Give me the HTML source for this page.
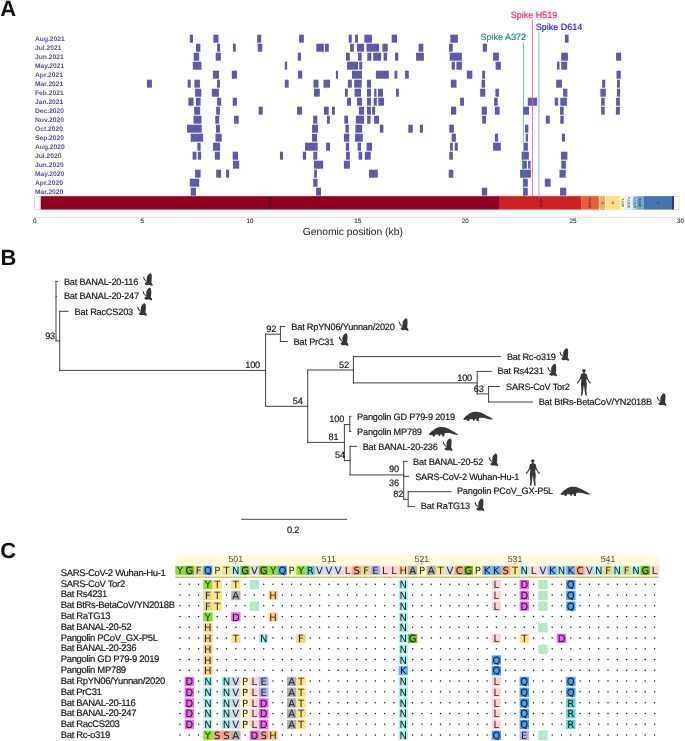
<!DOCTYPE html><html><head><meta charset="utf-8"><title>Figure</title><style>
html,body{margin:0;padding:0;background:#fff;}
body{width:685px;height:741px;overflow:hidden;}
svg{display:block;}
text{font-family:"Liberation Sans",Arial,sans-serif;text-rendering:geometricPrecision;}
.plab{font-weight:bold;font-size:22px;fill:#111;}
.mon{font-weight:bold;font-size:6.7px;fill:#534e9f;}
.gl{font-size:3.3px;fill:#1a1a1a;}
.tick{font-size:6.3px;fill:#333;stroke:#333;stroke-width:0.12px;}
.axt{font-size:10.3px;fill:#1a1a1a;}
.sp{font-size:9.0px;}
.tl{font-size:9.2px;letter-spacing:-0.2px;fill:#151515;stroke:#151515;stroke-width:0.18px;}
.nm{font-size:9.5px;letter-spacing:-0.33px;fill:#151515;stroke:#151515;stroke-width:0.18px;}
.ruler{font-size:8.8px;fill:#4a4a4a;}
.aa text{font-family:"DejaVu Sans",sans-serif;font-size:10px;fill:#000;fill-opacity:0.86;text-anchor:middle;}
.aa text.li{fill:#c2f5a8;fill-opacity:1;}
</style></head><body>
<svg width="685" height="741" viewBox="0 0 685 741">
<defs>
<g id="bat"><path d="M7 0 C7.8 0.3 8.4 0.8 8.5 1.5 L8.7 3.7 L8.5 7.2 L8.2 9.1 L9.1 10.4 L9.7 11.9 L8.9 12.7 L7.7 12 L6 11.8 L3.7 12 L2.1 11.3 L1.6 10.1 L2.8 9.3 L3.8 8.6 L3.6 6.1 L3.8 3.7 L4.6 2.1 L5.8 0.7 Z"/><path d="M0 3.8 L1 3.3 L1.6 5.6 L4.1 8.1 L3.7 8.9 L0.7 6.3 Z"/></g>
<g id="human"><circle cx="7.5" cy="1.9" r="1.75"/><path d="M6.6 3.6 L8.4 3.6 L8.5 4.6 L10.4 5.2 L11.2 9 L13 12.5 L14.6 13.8 L14 14.9 L12.6 13.8 L10.2 9.8 L10 12.5 L10.5 15.5 L10 22 L10.3 25.8 L10.9 26.6 L9 26.7 L8.3 22.2 L7.6 16.5 L7.4 16.5 L6.7 22.2 L6 26.7 L4.1 26.6 L4.7 25.8 L5 22 L4.5 15.5 L5 12.5 L4.8 9.8 L2.4 13.8 L1 14.9 L0.4 13.8 L2 12.5 L3.8 9 L4.6 5.2 L6.5 4.6 Z"/></g>
<g id="pango"><path d="M0 7.7 C1.5 5.8 3 4.6 4.5 3.5 C6.5 1.8 9 0.4 11.9 0.2 C14 0 16.5 0.4 18.9 1.4 C21 2.3 22 3.1 23.6 4 C25.5 5 27 5.8 28.2 6.6 C29 7.1 29.7 7.6 30 8.1 C28.5 8 27.2 7.9 25.9 7.7 C23.5 7.1 21.8 6.5 20.1 6.3 L16.2 6.2 L15.6 9.6 L13.7 9.6 L13.1 7.5 L11.9 7.7 L11.4 9.3 L10.1 9.3 L9.8 7.7 L6.7 7.7 L6.1 9.6 L4.4 9.6 L3.8 8.1 L2 8.4 Z"/></g>
</defs>
<rect width="685" height="741" fill="#fff"/>
<text x="0.3" y="16.0" class="plab">A</text>
<text x="35" y="41.1" class="mon">Aug.2021</text>
<text x="35" y="50.1" class="mon">Jul.2021</text>
<text x="35" y="59.1" class="mon">Jun.2021</text>
<text x="35" y="68.1" class="mon">May.2021</text>
<text x="35" y="77.1" class="mon">Apr.2021</text>
<text x="35" y="86.1" class="mon">Mar.2021</text>
<text x="35" y="95.1" class="mon">Feb.2021</text>
<text x="35" y="104.1" class="mon">Jan.2021</text>
<text x="35" y="113.1" class="mon">Dec.2020</text>
<text x="35" y="122.1" class="mon">Nov.2020</text>
<text x="35" y="131.1" class="mon">Oct.2020</text>
<text x="35" y="140.1" class="mon">Sep.2020</text>
<text x="35" y="149.1" class="mon">Aug.2020</text>
<text x="35" y="158.1" class="mon">Jul.2020</text>
<text x="35" y="167.1" class="mon">Jun.2020</text>
<text x="35" y="176.1" class="mon">May.2020</text>
<text x="35" y="185.1" class="mon">Apr.2020</text>
<text x="35" y="194.1" class="mon">Mar.2020</text>
<g fill="#5e59a8">
<rect x="189.8" y="34.7" width="3.2" height="8"/>
<rect x="213.4" y="34.7" width="5.1" height="8"/>
<rect x="257.1" y="34.7" width="4.1" height="8"/>
<rect x="299.1" y="34.7" width="4.7" height="8"/>
<rect x="348.7" y="34.7" width="3.1" height="8"/>
<rect x="355.1" y="34.7" width="2.9" height="8"/>
<rect x="364.3" y="34.7" width="7.6" height="8"/>
<rect x="391.7" y="34.7" width="5.3" height="8"/>
<rect x="450.3" y="34.7" width="7.6" height="8"/>
<rect x="564.9" y="34.7" width="3.7" height="8"/>
<rect x="196" y="43.7" width="4.4" height="8"/>
<rect x="217.1" y="43.7" width="3" height="8"/>
<rect x="233" y="43.7" width="2.7" height="8"/>
<rect x="257.7" y="43.7" width="4.6" height="8"/>
<rect x="316.3" y="43.7" width="7.6" height="8"/>
<rect x="325" y="43.7" width="3.8" height="8"/>
<rect x="350.1" y="43.7" width="3.8" height="8"/>
<rect x="357" y="43.7" width="7.1" height="8"/>
<rect x="366.5" y="43.7" width="12.5" height="8"/>
<rect x="382.4" y="43.7" width="5.3" height="8"/>
<rect x="418.6" y="43.7" width="4.7" height="8"/>
<rect x="449.1" y="43.7" width="3.6" height="8"/>
<rect x="482.8" y="43.7" width="4.1" height="8"/>
<rect x="193.7" y="52.7" width="5.5" height="8"/>
<rect x="215.7" y="52.7" width="5.1" height="8"/>
<rect x="297.8" y="52.7" width="3.1" height="8"/>
<rect x="346" y="52.7" width="3.8" height="8"/>
<rect x="358" y="52.7" width="3.7" height="8"/>
<rect x="367.3" y="52.7" width="4" height="8"/>
<rect x="373.2" y="52.7" width="7.9" height="8"/>
<rect x="383.6" y="52.7" width="3.5" height="8"/>
<rect x="395" y="52.7" width="3.3" height="8"/>
<rect x="416.1" y="52.7" width="7.8" height="8"/>
<rect x="449.7" y="52.7" width="12.2" height="8"/>
<rect x="493.1" y="52.7" width="5.8" height="8"/>
<rect x="561.2" y="52.7" width="6.7" height="8"/>
<rect x="616.1" y="52.7" width="5" height="8"/>
<rect x="192.8" y="61.7" width="8.7" height="8"/>
<rect x="284.8" y="61.7" width="2.3" height="8"/>
<rect x="347.1" y="61.7" width="10.9" height="8"/>
<rect x="359.2" y="61.7" width="3" height="8"/>
<rect x="451.6" y="61.7" width="3.3" height="8"/>
<rect x="456.4" y="61.7" width="5.5" height="8"/>
<rect x="495.6" y="61.7" width="5.2" height="8"/>
<rect x="557" y="61.7" width="2.5" height="8"/>
<rect x="561.2" y="61.7" width="6" height="8"/>
<rect x="213" y="70.7" width="6" height="8"/>
<rect x="231.8" y="70.7" width="5.1" height="8"/>
<rect x="298.1" y="70.7" width="4.1" height="8"/>
<rect x="335.9" y="70.7" width="2.1" height="8"/>
<rect x="352" y="70.7" width="10" height="8"/>
<rect x="375.9" y="70.7" width="12.9" height="8"/>
<rect x="394.5" y="70.7" width="2.8" height="8"/>
<rect x="405.1" y="70.7" width="3.7" height="8"/>
<rect x="466.8" y="70.7" width="5.5" height="8"/>
<rect x="482.2" y="70.7" width="2.9" height="8"/>
<rect x="616.5" y="70.7" width="4.3" height="8"/>
<rect x="146.9" y="79.7" width="5" height="8"/>
<rect x="187.7" y="79.7" width="3" height="8"/>
<rect x="194.4" y="79.7" width="5.5" height="8"/>
<rect x="217.1" y="79.7" width="2.8" height="8"/>
<rect x="284.8" y="79.7" width="3.9" height="8"/>
<rect x="313.5" y="79.7" width="5" height="8"/>
<rect x="323.5" y="79.7" width="6.5" height="8"/>
<rect x="347.9" y="79.7" width="3.9" height="8"/>
<rect x="354.2" y="79.7" width="7.5" height="8"/>
<rect x="367" y="79.7" width="4" height="8"/>
<rect x="450.8" y="79.7" width="5.7" height="8"/>
<rect x="481.6" y="79.7" width="3.5" height="8"/>
<rect x="556.2" y="79.7" width="5.7" height="8"/>
<rect x="602.1" y="79.7" width="3.2" height="8"/>
<rect x="617" y="79.7" width="2.9" height="8"/>
<rect x="195.1" y="88.7" width="6.2" height="8"/>
<rect x="211.8" y="88.7" width="7.2" height="8"/>
<rect x="314" y="88.7" width="5.8" height="8"/>
<rect x="345" y="88.7" width="2.8" height="8"/>
<rect x="354.6" y="88.7" width="6.4" height="8"/>
<rect x="367" y="88.7" width="4" height="8"/>
<rect x="374.1" y="88.7" width="2.4" height="8"/>
<rect x="378" y="88.7" width="5" height="8"/>
<rect x="396" y="88.7" width="2.8" height="8"/>
<rect x="480.2" y="88.7" width="5.1" height="8"/>
<rect x="495.4" y="88.7" width="3.6" height="8"/>
<rect x="563.1" y="88.7" width="4.3" height="8"/>
<rect x="600.4" y="88.7" width="5.4" height="8"/>
<rect x="617" y="88.7" width="3.1" height="8"/>
<rect x="188.4" y="97.7" width="5.1" height="8"/>
<rect x="196" y="97.7" width="4.6" height="8"/>
<rect x="217.1" y="97.7" width="4.1" height="8"/>
<rect x="232.7" y="97.7" width="4.2" height="8"/>
<rect x="347.1" y="97.7" width="3.9" height="8"/>
<rect x="357" y="97.7" width="5" height="8"/>
<rect x="367" y="97.7" width="3.9" height="8"/>
<rect x="373.7" y="97.7" width="3.1" height="8"/>
<rect x="378.3" y="97.7" width="5.7" height="8"/>
<rect x="460.1" y="97.7" width="3.9" height="8"/>
<rect x="494.1" y="97.7" width="3.6" height="8"/>
<rect x="527.8" y="97.7" width="9.3" height="8"/>
<rect x="554.7" y="97.7" width="3.4" height="8"/>
<rect x="560.3" y="97.7" width="6.6" height="8"/>
<rect x="601.2" y="97.7" width="3.5" height="8"/>
<rect x="616.1" y="97.7" width="3.8" height="8"/>
<rect x="194.2" y="106.7" width="5.9" height="8"/>
<rect x="216.2" y="106.7" width="3.7" height="8"/>
<rect x="258.7" y="106.7" width="4.1" height="8"/>
<rect x="297.1" y="106.7" width="4.9" height="8"/>
<rect x="324" y="106.7" width="4.7" height="8"/>
<rect x="332" y="106.7" width="2.9" height="8"/>
<rect x="358.9" y="106.7" width="5.2" height="8"/>
<rect x="367" y="106.7" width="3.9" height="8"/>
<rect x="372.1" y="106.7" width="3.1" height="8"/>
<rect x="451" y="106.7" width="5.2" height="8"/>
<rect x="481.7" y="106.7" width="5.2" height="8"/>
<rect x="494.9" y="106.7" width="4.7" height="8"/>
<rect x="523.1" y="106.7" width="5.9" height="8"/>
<rect x="560" y="106.7" width="3.7" height="8"/>
<rect x="601.2" y="106.7" width="3.5" height="8"/>
<rect x="615.9" y="106.7" width="4" height="8"/>
<rect x="193.5" y="115.7" width="8" height="8"/>
<rect x="215.3" y="115.7" width="3.9" height="8"/>
<rect x="234.1" y="115.7" width="4.6" height="8"/>
<rect x="313.2" y="115.7" width="4.1" height="8"/>
<rect x="326.9" y="115.7" width="2.9" height="8"/>
<rect x="344.3" y="115.7" width="3.8" height="8"/>
<rect x="355.8" y="115.7" width="8.3" height="8"/>
<rect x="367.1" y="115.7" width="3.5" height="8"/>
<rect x="374.1" y="115.7" width="4.9" height="8"/>
<rect x="482.2" y="115.7" width="3.8" height="8"/>
<rect x="545.8" y="115.7" width="4" height="8"/>
<rect x="560.3" y="115.7" width="3.4" height="8"/>
<rect x="187.1" y="124.7" width="14.6" height="8"/>
<rect x="216" y="124.7" width="3.9" height="8"/>
<rect x="312.1" y="124.7" width="5.9" height="8"/>
<rect x="345.5" y="124.7" width="3.3" height="8"/>
<rect x="355.4" y="124.7" width="6.8" height="8"/>
<rect x="379.9" y="124.7" width="3.5" height="8"/>
<rect x="408.3" y="124.7" width="4.5" height="8"/>
<rect x="419.8" y="124.7" width="3.2" height="8"/>
<rect x="449.3" y="124.7" width="4.6" height="8"/>
<rect x="525" y="124.7" width="3.4" height="8"/>
<rect x="190.7" y="133.7" width="12.4" height="8"/>
<rect x="215.5" y="133.7" width="6.2" height="8"/>
<rect x="312" y="133.7" width="5.1" height="8"/>
<rect x="343.9" y="133.7" width="5.4" height="8"/>
<rect x="355.1" y="133.7" width="7.7" height="8"/>
<rect x="451.6" y="133.7" width="4.3" height="8"/>
<rect x="494.9" y="133.7" width="3.2" height="8"/>
<rect x="525.7" y="133.7" width="2.3" height="8"/>
<rect x="561.9" y="133.7" width="3" height="8"/>
<rect x="197.4" y="142.7" width="3.2" height="8"/>
<rect x="213" y="142.7" width="7.1" height="8"/>
<rect x="305" y="142.7" width="12.7" height="8"/>
<rect x="326.1" y="142.7" width="3.9" height="8"/>
<rect x="345.8" y="142.7" width="3.3" height="8"/>
<rect x="357.6" y="142.7" width="3.4" height="8"/>
<rect x="366.6" y="142.7" width="5.4" height="8"/>
<rect x="450" y="142.7" width="2.8" height="8"/>
<rect x="454.7" y="142.7" width="3.1" height="8"/>
<rect x="493.1" y="142.7" width="7.7" height="8"/>
<rect x="524" y="142.7" width="3.9" height="8"/>
<rect x="192.6" y="151.7" width="3.9" height="8"/>
<rect x="197.8" y="151.7" width="3.3" height="8"/>
<rect x="214.8" y="151.7" width="5.1" height="8"/>
<rect x="232.7" y="151.7" width="5.3" height="8"/>
<rect x="280" y="151.7" width="3" height="8"/>
<rect x="302.8" y="151.7" width="3.3" height="8"/>
<rect x="313.3" y="151.7" width="4" height="8"/>
<rect x="346" y="151.7" width="3.9" height="8"/>
<rect x="358.6" y="151.7" width="3.6" height="8"/>
<rect x="364.8" y="151.7" width="5.9" height="8"/>
<rect x="449.3" y="151.7" width="3.5" height="8"/>
<rect x="521.6" y="151.7" width="7.3" height="8"/>
<rect x="561" y="151.7" width="6.4" height="8"/>
<rect x="233" y="160.7" width="6.2" height="8"/>
<rect x="313.9" y="160.7" width="9.2" height="8"/>
<rect x="343.9" y="160.7" width="6" height="8"/>
<rect x="522.2" y="160.7" width="4.6" height="8"/>
<rect x="528.1" y="160.7" width="2.4" height="8"/>
<rect x="561.3" y="160.7" width="4.6" height="8"/>
<rect x="195.1" y="169.7" width="5.5" height="8"/>
<rect x="216.2" y="169.7" width="4.8" height="8"/>
<rect x="226.1" y="169.7" width="3" height="8"/>
<rect x="314.2" y="169.7" width="2.7" height="8"/>
<rect x="369" y="169.7" width="8.8" height="8"/>
<rect x="448.7" y="169.7" width="4.6" height="8"/>
<rect x="520.1" y="169.7" width="10.8" height="8"/>
<rect x="559.5" y="169.7" width="6.2" height="8"/>
<rect x="189.8" y="178.7" width="9.4" height="8"/>
<rect x="313.2" y="178.7" width="4.3" height="8"/>
<rect x="522.9" y="178.7" width="4.9" height="8"/>
<rect x="544.8" y="178.7" width="5.8" height="8"/>
<rect x="190.7" y="187.7" width="5.3" height="8"/>
<rect x="316.1" y="187.7" width="4.9" height="8"/>
<rect x="481.9" y="187.7" width="5.3" height="8"/>
<rect x="523.1" y="187.7" width="4.7" height="8"/>
<rect x="560.1" y="187.7" width="6.1" height="8"/>
</g>
<rect x="34.3" y="196.2" width="644.7" height="13.3" fill="#fff" stroke="#cfcfcf" stroke-width="0.6"/>
<rect x="40.7" y="196.2" width="458.3" height="13.3" fill="#900020"/>
<rect x="499" y="196.2" width="82.2" height="13.3" fill="#cf2023"/>
<rect x="581.2" y="196.2" width="17.7" height="13.3" fill="#f25c35"/>
<rect x="600" y="196.2" width="5" height="13.3" fill="#fca55c"/>
<rect x="606" y="196.2" width="14" height="13.3" fill="#fedd8a"/>
<rect x="620" y="196.2" width="4.8" height="13.3" fill="#fcfcbd"/>
<rect x="625" y="196.2" width="7.6" height="13.3" fill="#dff1f6"/>
<rect x="632.6" y="196.2" width="3.7" height="13.3" fill="#aad6e8"/>
<rect x="636.3" y="196.2" width="7.3" height="13.3" fill="#71a9cf"/>
<rect x="643.6" y="196.2" width="27.7" height="13.3" fill="#4373b3"/>
<rect x="671.3" y="196.2" width="2.7" height="13.3" fill="#2f3490"/>
<rect x="598.9" y="196.2" width="1.1" height="13.3" fill="#fbd3c0"/>
<text class="gl" transform="translate(271,202.85) rotate(-90)" text-anchor="middle">ORF1ab</text>
<text class="gl" transform="translate(541.8,202.85) rotate(-90)" text-anchor="middle">Spike</text>
<text class="gl" transform="translate(591.4,202.85) rotate(-90)" text-anchor="middle">ORF3a</text>
<text class="gl" transform="translate(604,202.85) rotate(-90)" text-anchor="middle">E</text>
<text class="gl" transform="translate(614.2,202.85) rotate(-90)" text-anchor="middle">M</text>
<text class="gl" transform="translate(623.6,202.85) rotate(-90)" text-anchor="middle">ORF6</text>
<text class="gl" transform="translate(630,202.85) rotate(-90)" text-anchor="middle">ORF7a</text>
<text class="gl" transform="translate(635.7,202.85) rotate(-90)" text-anchor="middle">ORF7b</text>
<text class="gl" transform="translate(641.2,202.85) rotate(-90)" text-anchor="middle">ORF8</text>
<text class="gl" transform="translate(658.7,202.85) rotate(-90)" text-anchor="middle">N</text>
<line x1="34.7" y1="217.4" x2="680" y2="217.4" stroke="#dcdcdc" stroke-width="0.9"/>
<text x="34.7" y="222.7" class="tick" text-anchor="middle">0</text>
<text x="142.35" y="222.7" class="tick" text-anchor="middle">5</text>
<text x="250" y="222.7" class="tick" text-anchor="middle">10</text>
<text x="357.65" y="222.7" class="tick" text-anchor="middle">15</text>
<text x="465.3" y="222.7" class="tick" text-anchor="middle">20</text>
<text x="572.95" y="222.7" class="tick" text-anchor="middle">25</text>
<text x="680.6" y="222.7" class="tick" text-anchor="middle">30</text>
<text x="302.7" y="234.9" class="axt">Genomic position (kb)</text>
<line x1="523.4" y1="42.5" x2="523.4" y2="196.2" stroke="#2a9a8c" stroke-opacity="0.7" stroke-width="0.9"/>
<line x1="532.4" y1="20" x2="532.4" y2="196.2" stroke="#ff5aa5" stroke-width="0.9"/>
<line x1="538.9" y1="32.6" x2="538.9" y2="196.2" stroke="#b2b6ff" stroke-width="1.3"/>
<text x="480.4" y="39.6" class="sp" fill="#1d8a80" stroke="#1d8a80" stroke-width="0.2">Spike A372</text>
<text x="510.8" y="17.5" class="sp" fill="#f01e78" stroke="#f01e78" stroke-width="0.2">Spike H519</text>
<text x="535.8" y="30.4" class="sp" fill="#1c1cf2" stroke="#1c1cf2" stroke-width="0.2">Spike D614</text>
<text x="0.4" y="265.1" class="plab">B</text>
<g stroke="#404040" stroke-width="1" fill="none" stroke-linecap="square">
<line x1="59.7" y1="311.3" x2="59.7" y2="370.4"/>
<line x1="59.7" y1="311.3" x2="68" y2="311.3"/>
<line x1="56" y1="281.4" x2="56" y2="340.9"/>
<line x1="56" y1="340.9" x2="59.7" y2="340.9"/>
<line x1="56" y1="281.4" x2="57.4" y2="281.4"/>
<line x1="56" y1="296.3" x2="56.6" y2="296.3"/>
<line x1="59.7" y1="370.4" x2="265.6" y2="370.4"/>
<line x1="265.6" y1="334.2" x2="265.6" y2="406.3"/>
<line x1="265.6" y1="334.2" x2="280.4" y2="334.2"/>
<line x1="280.4" y1="326.4" x2="280.4" y2="341.5"/>
<line x1="280.4" y1="326.4" x2="284.9" y2="326.4"/>
<line x1="280.4" y1="341.5" x2="287.2" y2="341.5"/>
<line x1="265.6" y1="406.3" x2="307.7" y2="406.3"/>
<line x1="307.7" y1="370" x2="307.7" y2="442.4"/>
<line x1="307.7" y1="370" x2="353.4" y2="370"/>
<line x1="353.4" y1="356.6" x2="353.4" y2="382.9"/>
<line x1="353.4" y1="356.6" x2="500.4" y2="356.6"/>
<line x1="353.4" y1="382.9" x2="477.2" y2="382.9"/>
<line x1="477.2" y1="371.4" x2="477.2" y2="393.9"/>
<line x1="477.2" y1="371.4" x2="491.4" y2="371.4"/>
<line x1="477.2" y1="393.9" x2="488.6" y2="393.9"/>
<line x1="488.6" y1="386.5" x2="488.6" y2="402"/>
<line x1="488.6" y1="386.5" x2="499.5" y2="386.5"/>
<line x1="488.6" y1="402" x2="532.4" y2="402"/>
<line x1="307.7" y1="442.4" x2="344.4" y2="442.4"/>
<line x1="344.4" y1="424.6" x2="344.4" y2="460.6"/>
<line x1="344.4" y1="424.6" x2="349.8" y2="424.6"/>
<line x1="349.8" y1="416.4" x2="349.8" y2="431.5"/>
<line x1="349.8" y1="416.4" x2="350.8" y2="416.4"/>
<line x1="349.8" y1="431.5" x2="350.8" y2="431.5"/>
<line x1="344.4" y1="460.6" x2="350.1" y2="460.6"/>
<line x1="350.1" y1="446.3" x2="350.1" y2="474.9"/>
<line x1="350.1" y1="446.3" x2="356.4" y2="446.3"/>
<line x1="350.1" y1="474.9" x2="403.7" y2="474.9"/>
<line x1="403.7" y1="461.4" x2="403.7" y2="499.3"/>
<line x1="403.7" y1="461.4" x2="406.8" y2="461.4"/>
<line x1="403.7" y1="476.3" x2="408.8" y2="476.3"/>
<line x1="403.7" y1="499.3" x2="408.2" y2="499.3"/>
<line x1="408.2" y1="491.7" x2="408.2" y2="506.6"/>
<line x1="408.2" y1="491.7" x2="451.1" y2="491.7"/>
<line x1="408.2" y1="506.6" x2="414.6" y2="506.6"/>
</g>
<line x1="241.3" y1="519.3" x2="347" y2="519.3" stroke="#444" stroke-width="1"/>
<text x="293" y="533" class="tl" text-anchor="middle">0.2</text>
<text x="63.9" y="284.9" class="tl">Bat BANAL-20-116</text>
<text x="63.9" y="299.4" class="tl">Bat BANAL-20-247</text>
<text x="74.6" y="314.6" class="tl">Bat RacCS203</text>
<text x="291.3" y="329.9" class="tl">Bat RpYN06/Yunnan/2020</text>
<text x="293.6" y="344.5" class="tl">Bat PrC31</text>
<text x="506.9" y="359.5" class="tl">Bat Rc-o319</text>
<text x="497.6" y="374.3" class="tl">Bat Rs4231</text>
<text x="506.1" y="389.8" class="tl">SARS-CoV Tor2</text>
<text x="538.7" y="405" class="tl">Bat BtRs-BetaCoV/YN2018B</text>
<text x="357.1" y="419.5" class="tl">Pangolin GD P79-9 2019</text>
<text x="357.1" y="434.9" class="tl">Pangolin MP789</text>
<text x="362.7" y="450.2" class="tl">Bat BANAL-20-236</text>
<text x="413.1" y="464.5" class="tl">Bat BANAL-20-52</text>
<text x="415.2" y="479.6" class="tl">SARS-CoV-2 Wuhan-Hu-1</text>
<text x="456.9" y="494.2" class="tl">Pangolin PCoV_GX-P5L</text>
<text x="420.8" y="509.3" class="tl">Bat RaTG13</text>
<text x="55" y="339" class="tl" text-anchor="end">93</text>
<text x="276.1" y="331.9" class="tl" text-anchor="end">92</text>
<text x="260" y="367.5" class="tl" text-anchor="end">100</text>
<text x="348.8" y="367.5" class="tl" text-anchor="end">52</text>
<text x="302.6" y="403.8" class="tl" text-anchor="end">54</text>
<text x="472" y="380.6" class="tl" text-anchor="end">100</text>
<text x="483.6" y="392.4" class="tl" text-anchor="end">63</text>
<text x="344.1" y="421.8" class="tl" text-anchor="end">100</text>
<text x="338.4" y="440" class="tl" text-anchor="end">81</text>
<text x="344.8" y="458.4" class="tl" text-anchor="end">54</text>
<text x="398.9" y="472.4" class="tl" text-anchor="end">90</text>
<text x="398.9" y="485.8" class="tl" text-anchor="end">36</text>
<text x="403.2" y="496.5" class="tl" text-anchor="end">82</text>
<g fill="#363636">
<use href="#bat" transform="translate(143.1,273.3) scale(1)"/>
<use href="#bat" transform="translate(142.6,287.8) scale(1)"/>
<use href="#bat" transform="translate(137.2,303.2) scale(1)"/>
<use href="#bat" transform="translate(398.9,318.3) scale(1)"/>
<use href="#bat" transform="translate(338.8,333.2) scale(1)"/>
<use href="#bat" transform="translate(559.5,348.3) scale(1)"/>
<use href="#bat" transform="translate(547.5,363.8) scale(1)"/>
<use href="#bat" transform="translate(656.8,393.3) scale(1)"/>
<use href="#bat" transform="translate(442.9,438.4) scale(1)"/>
<use href="#bat" transform="translate(488.6,453.6) scale(1)"/>
<use href="#bat" transform="translate(474.7,498.6) scale(1)"/>
<use href="#human" transform="translate(576.4,368.8)"/>
<use href="#human" transform="translate(525.3,459)"/>
<use href="#pango" transform="translate(463,411.5)"/>
<use href="#pango" transform="translate(428.6,426.8)"/>
<use href="#pango" transform="translate(560.3,486.5)"/>
</g>
<text x="0.2" y="557.5" class="plab">C</text>
<rect x="175.3" y="555.0" width="483.91" height="21.6" fill="#fefbdc"/>
<text x="235.79" y="561.9" class="ruler" text-anchor="middle">501</text>
<rect x="235.39" y="562.5" width="0.8" height="1.7" fill="#555"/>
<text x="328.85" y="561.9" class="ruler" text-anchor="middle">511</text>
<rect x="328.45" y="562.5" width="0.8" height="1.7" fill="#555"/>
<text x="421.91" y="561.9" class="ruler" text-anchor="middle">521</text>
<rect x="421.51" y="562.5" width="0.8" height="1.7" fill="#555"/>
<text x="514.97" y="561.9" class="ruler" text-anchor="middle">531</text>
<rect x="514.57" y="562.5" width="0.8" height="1.7" fill="#555"/>
<text x="608.03" y="561.9" class="ruler" text-anchor="middle">541</text>
<rect x="607.63" y="562.5" width="0.8" height="1.7" fill="#555"/>
<rect x="175.3" y="565.8" width="9.36" height="9.1" fill="#86e22a"/>
<rect x="184.61" y="565.8" width="9.36" height="9.1" fill="#74bd2c"/>
<rect x="193.91" y="565.8" width="9.36" height="9.1" fill="#e7d887"/>
<rect x="203.22" y="565.8" width="9.36" height="9.1" fill="#4a9ef0"/>
<rect x="212.52" y="565.8" width="9.36" height="9.1" fill="#fdf6b6"/>
<rect x="221.83" y="565.8" width="9.36" height="9.1" fill="#fde482"/>
<rect x="231.14" y="565.8" width="9.36" height="9.1" fill="#aaf0f0"/>
<rect x="240.44" y="565.8" width="9.36" height="9.1" fill="#74bd2c"/>
<rect x="249.75" y="565.8" width="9.36" height="9.1" fill="#d4daf4"/>
<rect x="259.05" y="565.8" width="9.36" height="9.1" fill="#74bd2c"/>
<rect x="268.36" y="565.8" width="9.36" height="9.1" fill="#86e22a"/>
<rect x="277.67" y="565.8" width="9.36" height="9.1" fill="#4a9ef0"/>
<rect x="286.97" y="565.8" width="9.36" height="9.1" fill="#fdf6b6"/>
<rect x="296.28" y="565.8" width="9.36" height="9.1" fill="#86e22a"/>
<rect x="305.58" y="565.8" width="9.36" height="9.1" fill="#5fd0c8"/>
<rect x="314.89" y="565.8" width="9.36" height="9.1" fill="#d4daf4"/>
<rect x="324.2" y="565.8" width="9.36" height="9.1" fill="#d4daf4"/>
<rect x="333.5" y="565.8" width="9.36" height="9.1" fill="#d4daf4"/>
<rect x="342.81" y="565.8" width="9.36" height="9.1" fill="#fcd3d6"/>
<rect x="352.11" y="565.8" width="9.36" height="9.1" fill="#f6a385"/>
<rect x="361.42" y="565.8" width="9.36" height="9.1" fill="#e7d887"/>
<rect x="370.73" y="565.8" width="9.36" height="9.1" fill="#b0b0ec"/>
<rect x="380.03" y="565.8" width="9.36" height="9.1" fill="#fcd3d6"/>
<rect x="389.34" y="565.8" width="9.36" height="9.1" fill="#fcd3d6"/>
<rect x="398.64" y="565.8" width="9.36" height="9.1" fill="#fcce90"/>
<rect x="407.95" y="565.8" width="9.36" height="9.1" fill="#b0b0b0"/>
<rect x="417.26" y="565.8" width="9.36" height="9.1" fill="#fdf6b6"/>
<rect x="426.56" y="565.8" width="9.36" height="9.1" fill="#b0b0b0"/>
<rect x="435.87" y="565.8" width="9.36" height="9.1" fill="#fde482"/>
<rect x="445.17" y="565.8" width="9.36" height="9.1" fill="#d4daf4"/>
<rect x="454.48" y="565.8" width="9.36" height="9.1" fill="#f7a37c"/>
<rect x="463.79" y="565.8" width="9.36" height="9.1" fill="#74bd2c"/>
<rect x="473.09" y="565.8" width="9.36" height="9.1" fill="#fdf6b6"/>
<rect x="482.4" y="565.8" width="9.36" height="9.1" fill="#6cb6f2"/>
<rect x="491.7" y="565.8" width="9.36" height="9.1" fill="#6cb6f2"/>
<rect x="501.01" y="565.8" width="9.36" height="9.1" fill="#f6a385"/>
<rect x="510.32" y="565.8" width="9.36" height="9.1" fill="#fde482"/>
<rect x="519.62" y="565.8" width="9.36" height="9.1" fill="#aaf0f0"/>
<rect x="528.93" y="565.8" width="9.36" height="9.1" fill="#fcd3d6"/>
<rect x="538.23" y="565.8" width="9.36" height="9.1" fill="#d4daf4"/>
<rect x="547.54" y="565.8" width="9.36" height="9.1" fill="#6cb6f2"/>
<rect x="556.85" y="565.8" width="9.36" height="9.1" fill="#aaf0f0"/>
<rect x="566.15" y="565.8" width="9.36" height="9.1" fill="#6cb6f2"/>
<rect x="575.46" y="565.8" width="9.36" height="9.1" fill="#f7a37c"/>
<rect x="584.76" y="565.8" width="9.36" height="9.1" fill="#d4daf4"/>
<rect x="594.07" y="565.8" width="9.36" height="9.1" fill="#aaf0f0"/>
<rect x="603.38" y="565.8" width="9.36" height="9.1" fill="#e7d887"/>
<rect x="612.68" y="565.8" width="9.36" height="9.1" fill="#aaf0f0"/>
<rect x="621.99" y="565.8" width="9.36" height="9.1" fill="#e7d887"/>
<rect x="631.29" y="565.8" width="9.36" height="9.1" fill="#aaf0f0"/>
<rect x="640.6" y="565.8" width="9.36" height="9.1" fill="#74bd2c"/>
<rect x="649.91" y="565.8" width="9.36" height="9.1" fill="#fcd3d6"/>
<rect x="175.3" y="576.5" width="483.91" height="1.4" fill="#cbc275"/>
<g class="aa">
<text x="179.95" y="574.1">Y</text>
<text x="189.26" y="574.1">G</text>
<text x="198.56" y="574.1">F</text>
<text x="207.87" y="574.1">Q</text>
<text x="217.18" y="574.1">P</text>
<text x="226.48" y="574.1">T</text>
<text x="235.79" y="574.1">N</text>
<text x="245.09" y="574.1">G</text>
<text x="254.4" y="574.1">V</text>
<text x="263.71" y="574.1">G</text>
<text x="273.01" y="574.1">Y</text>
<text x="282.32" y="574.1">Q</text>
<text x="291.62" y="574.1">P</text>
<text x="300.93" y="574.1">Y</text>
<text x="310.24" y="574.1">R</text>
<text x="319.54" y="574.1">V</text>
<text x="328.85" y="574.1">V</text>
<text x="338.15" y="574.1">V</text>
<text x="347.46" y="574.1">L</text>
<text x="356.77" y="574.1">S</text>
<text x="366.07" y="574.1">F</text>
<text x="375.38" y="574.1">E</text>
<text x="384.69" y="574.1">L</text>
<text x="393.99" y="574.1">L</text>
<text x="403.3" y="574.1">H</text>
<text x="412.6" y="574.1">A</text>
<text x="421.91" y="574.1">P</text>
<text x="431.21" y="574.1">A</text>
<text x="440.52" y="574.1">T</text>
<text x="449.83" y="574.1">V</text>
<text x="459.13" y="574.1">C</text>
<text x="468.44" y="574.1">G</text>
<text x="477.75" y="574.1">P</text>
<text x="487.05" y="574.1">K</text>
<text x="496.36" y="574.1">K</text>
<text x="505.66" y="574.1">S</text>
<text x="514.97" y="574.1">T</text>
<text x="524.27" y="574.1">N</text>
<text x="533.58" y="574.1">L</text>
<text x="542.89" y="574.1">V</text>
<text x="552.19" y="574.1">K</text>
<text x="561.5" y="574.1">N</text>
<text x="570.8" y="574.1">K</text>
<text x="580.11" y="574.1">C</text>
<text x="589.42" y="574.1">V</text>
<text x="598.72" y="574.1">N</text>
<text x="608.03" y="574.1">F</text>
<text x="617.34" y="574.1">N</text>
<text x="626.64" y="574.1">F</text>
<text x="635.95" y="574.1">N</text>
<text x="645.25" y="574.1">G</text>
<text x="654.56" y="574.1">L</text>
</g>
<text x="60.7" y="575.6" class="nm">SARS-CoV-2 Wuhan-Hu-1</text>
<text x="60.7" y="586.6" class="nm">SARS-CoV Tor2</text>
<text x="60.7" y="597.41" class="nm">Bat Rs4231</text>
<text x="60.7" y="608.22" class="nm">Bat BtRs-BetaCoV/YN2018B</text>
<text x="60.7" y="619.03" class="nm">Bat RaTG13</text>
<text x="60.7" y="629.84" class="nm">Bat BANAL-20-52</text>
<text x="60.7" y="640.65" class="nm">Pangolin PCoV_GX-P5L</text>
<text x="60.7" y="651.46" class="nm">Bat BANAL-20-236</text>
<text x="60.7" y="662.27" class="nm">Pangolin GD P79-9 2019</text>
<text x="60.7" y="673.08" class="nm">Pangolin MP789</text>
<text x="60.7" y="683.89" class="nm">Bat RpYN06/Yunnan/2020</text>
<text x="60.7" y="694.7" class="nm">Bat PrC31</text>
<text x="60.7" y="705.51" class="nm">Bat BANAL-20-116</text>
<text x="60.7" y="716.32" class="nm">Bat BANAL-20-247</text>
<text x="60.7" y="727.13" class="nm">Bat RacCS203</text>
<text x="60.7" y="737.94" class="nm">Bat Rc-o319</text>
<rect x="203.22" y="580" width="9.36" height="9.3" fill="#86e22a"/>
<rect x="212.52" y="580" width="9.36" height="9.3" fill="#fde482"/>
<rect x="231.14" y="580" width="9.36" height="9.3" fill="#fde482"/>
<rect x="249.75" y="580" width="9.36" height="9.3" fill="#b2e6c8"/>
<rect x="398.64" y="580" width="9.36" height="9.3" fill="#aaf0f0"/>
<rect x="491.7" y="580" width="9.36" height="9.3" fill="#fcd3d6"/>
<rect x="519.62" y="580" width="9.36" height="9.3" fill="#ee66ee"/>
<rect x="538.23" y="580" width="9.36" height="9.3" fill="#b2e6c8"/>
<rect x="566.15" y="580" width="9.36" height="9.3" fill="#4a9ef0"/>
<rect x="203.22" y="590.76" width="9.36" height="9.3" fill="#e7d887"/>
<rect x="212.52" y="590.76" width="9.36" height="9.3" fill="#fde482"/>
<rect x="231.14" y="590.76" width="9.36" height="9.3" fill="#b0b0b0"/>
<rect x="268.36" y="590.76" width="9.36" height="9.3" fill="#fcce90"/>
<rect x="398.64" y="590.76" width="9.36" height="9.3" fill="#aaf0f0"/>
<rect x="491.7" y="590.76" width="9.36" height="9.3" fill="#fcd3d6"/>
<rect x="519.62" y="590.76" width="9.36" height="9.3" fill="#ee66ee"/>
<rect x="538.23" y="590.76" width="9.36" height="9.3" fill="#b2e6c8"/>
<rect x="566.15" y="590.76" width="9.36" height="9.3" fill="#4a9ef0"/>
<rect x="203.22" y="601.51" width="9.36" height="9.3" fill="#e7d887"/>
<rect x="212.52" y="601.51" width="9.36" height="9.3" fill="#fde482"/>
<rect x="249.75" y="601.51" width="9.36" height="9.3" fill="#b2e6c8"/>
<rect x="398.64" y="601.51" width="9.36" height="9.3" fill="#aaf0f0"/>
<rect x="491.7" y="601.51" width="9.36" height="9.3" fill="#fcd3d6"/>
<rect x="519.62" y="601.51" width="9.36" height="9.3" fill="#ee66ee"/>
<rect x="538.23" y="601.51" width="9.36" height="9.3" fill="#b2e6c8"/>
<rect x="566.15" y="601.51" width="9.36" height="9.3" fill="#4a9ef0"/>
<rect x="203.22" y="612.27" width="9.36" height="9.3" fill="#86e22a"/>
<rect x="231.14" y="612.27" width="9.36" height="9.3" fill="#ee66ee"/>
<rect x="268.36" y="612.27" width="9.36" height="9.3" fill="#fcce90"/>
<rect x="398.64" y="612.27" width="9.36" height="9.3" fill="#aaf0f0"/>
<rect x="203.22" y="623.03" width="9.36" height="9.3" fill="#fcce90"/>
<rect x="398.64" y="623.03" width="9.36" height="9.3" fill="#aaf0f0"/>
<rect x="538.23" y="623.03" width="9.36" height="9.3" fill="#b2e6c8"/>
<rect x="203.22" y="633.78" width="9.36" height="9.3" fill="#fcce90"/>
<rect x="231.14" y="633.78" width="9.36" height="9.3" fill="#fde482"/>
<rect x="259.05" y="633.78" width="9.36" height="9.3" fill="#aaf0f0"/>
<rect x="296.28" y="633.78" width="9.36" height="9.3" fill="#e7d887"/>
<rect x="398.64" y="633.78" width="9.36" height="9.3" fill="#aaf0f0"/>
<rect x="407.95" y="633.78" width="9.36" height="9.3" fill="#74bd2c"/>
<rect x="491.7" y="633.78" width="9.36" height="9.3" fill="#fcd3d6"/>
<rect x="519.62" y="633.78" width="9.36" height="9.3" fill="#fde482"/>
<rect x="556.85" y="633.78" width="9.36" height="9.3" fill="#ee66ee"/>
<rect x="203.22" y="644.54" width="9.36" height="9.3" fill="#fcce90"/>
<rect x="398.64" y="644.54" width="9.36" height="9.3" fill="#aaf0f0"/>
<rect x="538.23" y="644.54" width="9.36" height="9.3" fill="#b2e6c8"/>
<rect x="203.22" y="655.3" width="9.36" height="9.3" fill="#fcce90"/>
<rect x="398.64" y="655.3" width="9.36" height="9.3" fill="#aaf0f0"/>
<rect x="491.7" y="655.3" width="9.36" height="9.3" fill="#4a9ef0"/>
<rect x="203.22" y="666.06" width="9.36" height="9.3" fill="#fcce90"/>
<rect x="398.64" y="666.06" width="9.36" height="9.3" fill="#6cb6f2"/>
<rect x="491.7" y="666.06" width="9.36" height="9.3" fill="#4a9ef0"/>
<rect x="184.61" y="676.81" width="9.36" height="9.3" fill="#ee66ee"/>
<rect x="203.22" y="676.81" width="9.36" height="9.3" fill="#aaf0f0"/>
<rect x="221.83" y="676.81" width="9.36" height="9.3" fill="#aaf0f0"/>
<rect x="231.14" y="676.81" width="9.36" height="9.3" fill="#d4daf4"/>
<rect x="240.44" y="676.81" width="9.36" height="9.3" fill="#fdf6b6"/>
<rect x="249.75" y="676.81" width="9.36" height="9.3" fill="#fcd3d6"/>
<rect x="259.05" y="676.81" width="9.36" height="9.3" fill="#b0b0ec"/>
<rect x="286.97" y="676.81" width="9.36" height="9.3" fill="#b0b0b0"/>
<rect x="296.28" y="676.81" width="9.36" height="9.3" fill="#fde482"/>
<rect x="398.64" y="676.81" width="9.36" height="9.3" fill="#aaf0f0"/>
<rect x="491.7" y="676.81" width="9.36" height="9.3" fill="#fcd3d6"/>
<rect x="519.62" y="676.81" width="9.36" height="9.3" fill="#4a9ef0"/>
<rect x="566.15" y="676.81" width="9.36" height="9.3" fill="#4a9ef0"/>
<rect x="184.61" y="687.57" width="9.36" height="9.3" fill="#ee66ee"/>
<rect x="203.22" y="687.57" width="9.36" height="9.3" fill="#aaf0f0"/>
<rect x="221.83" y="687.57" width="9.36" height="9.3" fill="#aaf0f0"/>
<rect x="231.14" y="687.57" width="9.36" height="9.3" fill="#d4daf4"/>
<rect x="240.44" y="687.57" width="9.36" height="9.3" fill="#fdf6b6"/>
<rect x="249.75" y="687.57" width="9.36" height="9.3" fill="#fcd3d6"/>
<rect x="259.05" y="687.57" width="9.36" height="9.3" fill="#b0b0ec"/>
<rect x="286.97" y="687.57" width="9.36" height="9.3" fill="#b0b0b0"/>
<rect x="296.28" y="687.57" width="9.36" height="9.3" fill="#fde482"/>
<rect x="398.64" y="687.57" width="9.36" height="9.3" fill="#aaf0f0"/>
<rect x="491.7" y="687.57" width="9.36" height="9.3" fill="#fcd3d6"/>
<rect x="519.62" y="687.57" width="9.36" height="9.3" fill="#4a9ef0"/>
<rect x="566.15" y="687.57" width="9.36" height="9.3" fill="#4a9ef0"/>
<rect x="184.61" y="698.33" width="9.36" height="9.3" fill="#ee66ee"/>
<rect x="203.22" y="698.33" width="9.36" height="9.3" fill="#aaf0f0"/>
<rect x="221.83" y="698.33" width="9.36" height="9.3" fill="#aaf0f0"/>
<rect x="231.14" y="698.33" width="9.36" height="9.3" fill="#d4daf4"/>
<rect x="240.44" y="698.33" width="9.36" height="9.3" fill="#fdf6b6"/>
<rect x="249.75" y="698.33" width="9.36" height="9.3" fill="#fcd3d6"/>
<rect x="259.05" y="698.33" width="9.36" height="9.3" fill="#ee66ee"/>
<rect x="286.97" y="698.33" width="9.36" height="9.3" fill="#b0b0b0"/>
<rect x="296.28" y="698.33" width="9.36" height="9.3" fill="#fde482"/>
<rect x="398.64" y="698.33" width="9.36" height="9.3" fill="#aaf0f0"/>
<rect x="491.7" y="698.33" width="9.36" height="9.3" fill="#fcd3d6"/>
<rect x="519.62" y="698.33" width="9.36" height="9.3" fill="#4a9ef0"/>
<rect x="566.15" y="698.33" width="9.36" height="9.3" fill="#5fd0c8"/>
<rect x="184.61" y="709.08" width="9.36" height="9.3" fill="#ee66ee"/>
<rect x="203.22" y="709.08" width="9.36" height="9.3" fill="#aaf0f0"/>
<rect x="221.83" y="709.08" width="9.36" height="9.3" fill="#aaf0f0"/>
<rect x="231.14" y="709.08" width="9.36" height="9.3" fill="#d4daf4"/>
<rect x="240.44" y="709.08" width="9.36" height="9.3" fill="#fdf6b6"/>
<rect x="249.75" y="709.08" width="9.36" height="9.3" fill="#fcd3d6"/>
<rect x="259.05" y="709.08" width="9.36" height="9.3" fill="#ee66ee"/>
<rect x="286.97" y="709.08" width="9.36" height="9.3" fill="#b0b0b0"/>
<rect x="296.28" y="709.08" width="9.36" height="9.3" fill="#fde482"/>
<rect x="398.64" y="709.08" width="9.36" height="9.3" fill="#aaf0f0"/>
<rect x="491.7" y="709.08" width="9.36" height="9.3" fill="#fcd3d6"/>
<rect x="519.62" y="709.08" width="9.36" height="9.3" fill="#4a9ef0"/>
<rect x="566.15" y="709.08" width="9.36" height="9.3" fill="#5fd0c8"/>
<rect x="184.61" y="719.84" width="9.36" height="9.3" fill="#ee66ee"/>
<rect x="203.22" y="719.84" width="9.36" height="9.3" fill="#aaf0f0"/>
<rect x="221.83" y="719.84" width="9.36" height="9.3" fill="#aaf0f0"/>
<rect x="231.14" y="719.84" width="9.36" height="9.3" fill="#d4daf4"/>
<rect x="240.44" y="719.84" width="9.36" height="9.3" fill="#fdf6b6"/>
<rect x="249.75" y="719.84" width="9.36" height="9.3" fill="#fcd3d6"/>
<rect x="259.05" y="719.84" width="9.36" height="9.3" fill="#ee66ee"/>
<rect x="286.97" y="719.84" width="9.36" height="9.3" fill="#b0b0b0"/>
<rect x="296.28" y="719.84" width="9.36" height="9.3" fill="#fde482"/>
<rect x="398.64" y="719.84" width="9.36" height="9.3" fill="#aaf0f0"/>
<rect x="491.7" y="719.84" width="9.36" height="9.3" fill="#fcd3d6"/>
<rect x="519.62" y="719.84" width="9.36" height="9.3" fill="#4a9ef0"/>
<rect x="566.15" y="719.84" width="9.36" height="9.3" fill="#5fd0c8"/>
<rect x="203.22" y="730.6" width="9.36" height="9.3" fill="#86e22a"/>
<rect x="212.52" y="730.6" width="9.36" height="9.3" fill="#f6a385"/>
<rect x="221.83" y="730.6" width="9.36" height="9.3" fill="#f6a385"/>
<rect x="231.14" y="730.6" width="9.36" height="9.3" fill="#b0b0b0"/>
<rect x="249.75" y="730.6" width="9.36" height="9.3" fill="#ee66ee"/>
<rect x="259.05" y="730.6" width="9.36" height="9.3" fill="#f6a385"/>
<rect x="268.36" y="730.6" width="9.36" height="9.3" fill="#fcce90"/>
<rect x="398.64" y="730.6" width="9.36" height="9.3" fill="#aaf0f0"/>
<rect x="491.7" y="730.6" width="9.36" height="9.3" fill="#4a9ef0"/>
<rect x="519.62" y="730.6" width="9.36" height="9.3" fill="#b0b0ec"/>
<rect x="538.23" y="730.6" width="9.36" height="9.3" fill="#b2e6c8"/>
<g class="aa">
<text x="207.87" y="588.3">Y</text>
<text x="217.18" y="588.3">T</text>
<text x="235.79" y="588.3">T</text>
<text x="254.4" y="588.3" class="li">I</text>
<text x="403.3" y="588.3">N</text>
<text x="496.36" y="588.3">L</text>
<text x="524.27" y="588.3">D</text>
<text x="542.89" y="588.3" class="li">I</text>
<text x="570.8" y="588.3">Q</text>
<text x="207.87" y="599.06">F</text>
<text x="217.18" y="599.06">T</text>
<text x="235.79" y="599.06">A</text>
<text x="273.01" y="599.06">H</text>
<text x="403.3" y="599.06">N</text>
<text x="496.36" y="599.06">L</text>
<text x="524.27" y="599.06">D</text>
<text x="542.89" y="599.06" class="li">I</text>
<text x="570.8" y="599.06">Q</text>
<text x="207.87" y="609.81">F</text>
<text x="217.18" y="609.81">T</text>
<text x="254.4" y="609.81" class="li">I</text>
<text x="403.3" y="609.81">N</text>
<text x="496.36" y="609.81">L</text>
<text x="524.27" y="609.81">D</text>
<text x="542.89" y="609.81" class="li">I</text>
<text x="570.8" y="609.81">Q</text>
<text x="207.87" y="620.57">Y</text>
<text x="235.79" y="620.57">D</text>
<text x="273.01" y="620.57">H</text>
<text x="403.3" y="620.57">N</text>
<text x="207.87" y="631.33">H</text>
<text x="403.3" y="631.33">N</text>
<text x="542.89" y="631.33" class="li">I</text>
<text x="207.87" y="642.08">H</text>
<text x="235.79" y="642.08">T</text>
<text x="263.71" y="642.08">N</text>
<text x="300.93" y="642.08">F</text>
<text x="403.3" y="642.08">N</text>
<text x="412.6" y="642.08">G</text>
<text x="496.36" y="642.08">L</text>
<text x="524.27" y="642.08">T</text>
<text x="561.5" y="642.08">D</text>
<text x="207.87" y="652.84">H</text>
<text x="403.3" y="652.84">N</text>
<text x="542.89" y="652.84" class="li">I</text>
<text x="207.87" y="663.6">H</text>
<text x="403.3" y="663.6">N</text>
<text x="496.36" y="663.6">Q</text>
<text x="207.87" y="674.36">H</text>
<text x="403.3" y="674.36">K</text>
<text x="496.36" y="674.36">Q</text>
<text x="189.26" y="685.11">D</text>
<text x="207.87" y="685.11">N</text>
<text x="226.48" y="685.11">N</text>
<text x="235.79" y="685.11">V</text>
<text x="245.09" y="685.11">P</text>
<text x="254.4" y="685.11">L</text>
<text x="263.71" y="685.11">E</text>
<text x="291.62" y="685.11">A</text>
<text x="300.93" y="685.11">T</text>
<text x="403.3" y="685.11">N</text>
<text x="496.36" y="685.11">L</text>
<text x="524.27" y="685.11">Q</text>
<text x="570.8" y="685.11">Q</text>
<text x="189.26" y="695.87">D</text>
<text x="207.87" y="695.87">N</text>
<text x="226.48" y="695.87">N</text>
<text x="235.79" y="695.87">V</text>
<text x="245.09" y="695.87">P</text>
<text x="254.4" y="695.87">L</text>
<text x="263.71" y="695.87">E</text>
<text x="291.62" y="695.87">A</text>
<text x="300.93" y="695.87">T</text>
<text x="403.3" y="695.87">N</text>
<text x="496.36" y="695.87">L</text>
<text x="524.27" y="695.87">Q</text>
<text x="570.8" y="695.87">Q</text>
<text x="189.26" y="706.63">D</text>
<text x="207.87" y="706.63">N</text>
<text x="226.48" y="706.63">N</text>
<text x="235.79" y="706.63">V</text>
<text x="245.09" y="706.63">P</text>
<text x="254.4" y="706.63">L</text>
<text x="263.71" y="706.63">D</text>
<text x="291.62" y="706.63">A</text>
<text x="300.93" y="706.63">T</text>
<text x="403.3" y="706.63">N</text>
<text x="496.36" y="706.63">L</text>
<text x="524.27" y="706.63">Q</text>
<text x="570.8" y="706.63">R</text>
<text x="189.26" y="717.38">D</text>
<text x="207.87" y="717.38">N</text>
<text x="226.48" y="717.38">N</text>
<text x="235.79" y="717.38">V</text>
<text x="245.09" y="717.38">P</text>
<text x="254.4" y="717.38">L</text>
<text x="263.71" y="717.38">D</text>
<text x="291.62" y="717.38">A</text>
<text x="300.93" y="717.38">T</text>
<text x="403.3" y="717.38">N</text>
<text x="496.36" y="717.38">L</text>
<text x="524.27" y="717.38">Q</text>
<text x="570.8" y="717.38">R</text>
<text x="189.26" y="728.14">D</text>
<text x="207.87" y="728.14">N</text>
<text x="226.48" y="728.14">N</text>
<text x="235.79" y="728.14">V</text>
<text x="245.09" y="728.14">P</text>
<text x="254.4" y="728.14">L</text>
<text x="263.71" y="728.14">D</text>
<text x="291.62" y="728.14">A</text>
<text x="300.93" y="728.14">T</text>
<text x="403.3" y="728.14">N</text>
<text x="496.36" y="728.14">L</text>
<text x="524.27" y="728.14">Q</text>
<text x="570.8" y="728.14">R</text>
<text x="207.87" y="738.9">Y</text>
<text x="217.18" y="738.9">S</text>
<text x="226.48" y="738.9">S</text>
<text x="235.79" y="738.9">A</text>
<text x="254.4" y="738.9">D</text>
<text x="263.71" y="738.9">S</text>
<text x="273.01" y="738.9">H</text>
<text x="403.3" y="738.9">N</text>
<text x="496.36" y="738.9">Q</text>
<text x="524.27" y="738.9">E</text>
<text x="542.89" y="738.9" class="li">I</text>
</g>
<g fill="#111">
<circle cx="179.95" cy="584.3" r="0.75"/>
<circle cx="189.26" cy="584.3" r="0.75"/>
<circle cx="198.56" cy="584.3" r="0.75"/>
<circle cx="226.48" cy="584.3" r="0.75"/>
<circle cx="245.09" cy="584.3" r="0.75"/>
<circle cx="263.71" cy="584.3" r="0.75"/>
<circle cx="273.01" cy="584.3" r="0.75"/>
<circle cx="282.32" cy="584.3" r="0.75"/>
<circle cx="291.62" cy="584.3" r="0.75"/>
<circle cx="300.93" cy="584.3" r="0.75"/>
<circle cx="310.24" cy="584.3" r="0.75"/>
<circle cx="319.54" cy="584.3" r="0.75"/>
<circle cx="328.85" cy="584.3" r="0.75"/>
<circle cx="338.15" cy="584.3" r="0.75"/>
<circle cx="347.46" cy="584.3" r="0.75"/>
<circle cx="356.77" cy="584.3" r="0.75"/>
<circle cx="366.07" cy="584.3" r="0.75"/>
<circle cx="375.38" cy="584.3" r="0.75"/>
<circle cx="384.69" cy="584.3" r="0.75"/>
<circle cx="393.99" cy="584.3" r="0.75"/>
<circle cx="412.6" cy="584.3" r="0.75"/>
<circle cx="421.91" cy="584.3" r="0.75"/>
<circle cx="431.21" cy="584.3" r="0.75"/>
<circle cx="440.52" cy="584.3" r="0.75"/>
<circle cx="449.83" cy="584.3" r="0.75"/>
<circle cx="459.13" cy="584.3" r="0.75"/>
<circle cx="468.44" cy="584.3" r="0.75"/>
<circle cx="477.75" cy="584.3" r="0.75"/>
<circle cx="487.05" cy="584.3" r="0.75"/>
<circle cx="505.66" cy="584.3" r="0.75"/>
<circle cx="514.97" cy="584.3" r="0.75"/>
<circle cx="533.58" cy="584.3" r="0.75"/>
<circle cx="552.19" cy="584.3" r="0.75"/>
<circle cx="561.5" cy="584.3" r="0.75"/>
<circle cx="580.11" cy="584.3" r="0.75"/>
<circle cx="589.42" cy="584.3" r="0.75"/>
<circle cx="598.72" cy="584.3" r="0.75"/>
<circle cx="608.03" cy="584.3" r="0.75"/>
<circle cx="617.34" cy="584.3" r="0.75"/>
<circle cx="626.64" cy="584.3" r="0.75"/>
<circle cx="635.95" cy="584.3" r="0.75"/>
<circle cx="645.25" cy="584.3" r="0.75"/>
<circle cx="654.56" cy="584.3" r="0.75"/>
<circle cx="179.95" cy="595.06" r="0.75"/>
<circle cx="189.26" cy="595.06" r="0.75"/>
<circle cx="198.56" cy="595.06" r="0.75"/>
<circle cx="226.48" cy="595.06" r="0.75"/>
<circle cx="245.09" cy="595.06" r="0.75"/>
<circle cx="254.4" cy="595.06" r="0.75"/>
<circle cx="263.71" cy="595.06" r="0.75"/>
<circle cx="282.32" cy="595.06" r="0.75"/>
<circle cx="291.62" cy="595.06" r="0.75"/>
<circle cx="300.93" cy="595.06" r="0.75"/>
<circle cx="310.24" cy="595.06" r="0.75"/>
<circle cx="319.54" cy="595.06" r="0.75"/>
<circle cx="328.85" cy="595.06" r="0.75"/>
<circle cx="338.15" cy="595.06" r="0.75"/>
<circle cx="347.46" cy="595.06" r="0.75"/>
<circle cx="356.77" cy="595.06" r="0.75"/>
<circle cx="366.07" cy="595.06" r="0.75"/>
<circle cx="375.38" cy="595.06" r="0.75"/>
<circle cx="384.69" cy="595.06" r="0.75"/>
<circle cx="393.99" cy="595.06" r="0.75"/>
<circle cx="412.6" cy="595.06" r="0.75"/>
<circle cx="421.91" cy="595.06" r="0.75"/>
<circle cx="431.21" cy="595.06" r="0.75"/>
<circle cx="440.52" cy="595.06" r="0.75"/>
<circle cx="449.83" cy="595.06" r="0.75"/>
<circle cx="459.13" cy="595.06" r="0.75"/>
<circle cx="468.44" cy="595.06" r="0.75"/>
<circle cx="477.75" cy="595.06" r="0.75"/>
<circle cx="487.05" cy="595.06" r="0.75"/>
<circle cx="505.66" cy="595.06" r="0.75"/>
<circle cx="514.97" cy="595.06" r="0.75"/>
<circle cx="533.58" cy="595.06" r="0.75"/>
<circle cx="552.19" cy="595.06" r="0.75"/>
<circle cx="561.5" cy="595.06" r="0.75"/>
<circle cx="580.11" cy="595.06" r="0.75"/>
<circle cx="589.42" cy="595.06" r="0.75"/>
<circle cx="598.72" cy="595.06" r="0.75"/>
<circle cx="608.03" cy="595.06" r="0.75"/>
<circle cx="617.34" cy="595.06" r="0.75"/>
<circle cx="626.64" cy="595.06" r="0.75"/>
<circle cx="635.95" cy="595.06" r="0.75"/>
<circle cx="645.25" cy="595.06" r="0.75"/>
<circle cx="654.56" cy="595.06" r="0.75"/>
<circle cx="179.95" cy="605.81" r="0.75"/>
<circle cx="189.26" cy="605.81" r="0.75"/>
<circle cx="198.56" cy="605.81" r="0.75"/>
<circle cx="226.48" cy="605.81" r="0.75"/>
<circle cx="235.79" cy="605.81" r="0.75"/>
<circle cx="245.09" cy="605.81" r="0.75"/>
<circle cx="263.71" cy="605.81" r="0.75"/>
<circle cx="273.01" cy="605.81" r="0.75"/>
<circle cx="282.32" cy="605.81" r="0.75"/>
<circle cx="291.62" cy="605.81" r="0.75"/>
<circle cx="300.93" cy="605.81" r="0.75"/>
<circle cx="310.24" cy="605.81" r="0.75"/>
<circle cx="319.54" cy="605.81" r="0.75"/>
<circle cx="328.85" cy="605.81" r="0.75"/>
<circle cx="338.15" cy="605.81" r="0.75"/>
<circle cx="347.46" cy="605.81" r="0.75"/>
<circle cx="356.77" cy="605.81" r="0.75"/>
<circle cx="366.07" cy="605.81" r="0.75"/>
<circle cx="375.38" cy="605.81" r="0.75"/>
<circle cx="384.69" cy="605.81" r="0.75"/>
<circle cx="393.99" cy="605.81" r="0.75"/>
<circle cx="412.6" cy="605.81" r="0.75"/>
<circle cx="421.91" cy="605.81" r="0.75"/>
<circle cx="431.21" cy="605.81" r="0.75"/>
<circle cx="440.52" cy="605.81" r="0.75"/>
<circle cx="449.83" cy="605.81" r="0.75"/>
<circle cx="459.13" cy="605.81" r="0.75"/>
<circle cx="468.44" cy="605.81" r="0.75"/>
<circle cx="477.75" cy="605.81" r="0.75"/>
<circle cx="487.05" cy="605.81" r="0.75"/>
<circle cx="505.66" cy="605.81" r="0.75"/>
<circle cx="514.97" cy="605.81" r="0.75"/>
<circle cx="533.58" cy="605.81" r="0.75"/>
<circle cx="552.19" cy="605.81" r="0.75"/>
<circle cx="561.5" cy="605.81" r="0.75"/>
<circle cx="580.11" cy="605.81" r="0.75"/>
<circle cx="589.42" cy="605.81" r="0.75"/>
<circle cx="598.72" cy="605.81" r="0.75"/>
<circle cx="608.03" cy="605.81" r="0.75"/>
<circle cx="617.34" cy="605.81" r="0.75"/>
<circle cx="626.64" cy="605.81" r="0.75"/>
<circle cx="635.95" cy="605.81" r="0.75"/>
<circle cx="645.25" cy="605.81" r="0.75"/>
<circle cx="654.56" cy="605.81" r="0.75"/>
<circle cx="179.95" cy="616.57" r="0.75"/>
<circle cx="189.26" cy="616.57" r="0.75"/>
<circle cx="198.56" cy="616.57" r="0.75"/>
<circle cx="217.18" cy="616.57" r="0.75"/>
<circle cx="226.48" cy="616.57" r="0.75"/>
<circle cx="245.09" cy="616.57" r="0.75"/>
<circle cx="254.4" cy="616.57" r="0.75"/>
<circle cx="263.71" cy="616.57" r="0.75"/>
<circle cx="282.32" cy="616.57" r="0.75"/>
<circle cx="291.62" cy="616.57" r="0.75"/>
<circle cx="300.93" cy="616.57" r="0.75"/>
<circle cx="310.24" cy="616.57" r="0.75"/>
<circle cx="319.54" cy="616.57" r="0.75"/>
<circle cx="328.85" cy="616.57" r="0.75"/>
<circle cx="338.15" cy="616.57" r="0.75"/>
<circle cx="347.46" cy="616.57" r="0.75"/>
<circle cx="356.77" cy="616.57" r="0.75"/>
<circle cx="366.07" cy="616.57" r="0.75"/>
<circle cx="375.38" cy="616.57" r="0.75"/>
<circle cx="384.69" cy="616.57" r="0.75"/>
<circle cx="393.99" cy="616.57" r="0.75"/>
<circle cx="412.6" cy="616.57" r="0.75"/>
<circle cx="421.91" cy="616.57" r="0.75"/>
<circle cx="431.21" cy="616.57" r="0.75"/>
<circle cx="440.52" cy="616.57" r="0.75"/>
<circle cx="449.83" cy="616.57" r="0.75"/>
<circle cx="459.13" cy="616.57" r="0.75"/>
<circle cx="468.44" cy="616.57" r="0.75"/>
<circle cx="477.75" cy="616.57" r="0.75"/>
<circle cx="487.05" cy="616.57" r="0.75"/>
<circle cx="496.36" cy="616.57" r="0.75"/>
<circle cx="505.66" cy="616.57" r="0.75"/>
<circle cx="514.97" cy="616.57" r="0.75"/>
<circle cx="524.27" cy="616.57" r="0.75"/>
<circle cx="533.58" cy="616.57" r="0.75"/>
<circle cx="542.89" cy="616.57" r="0.75"/>
<circle cx="552.19" cy="616.57" r="0.75"/>
<circle cx="561.5" cy="616.57" r="0.75"/>
<circle cx="570.8" cy="616.57" r="0.75"/>
<circle cx="580.11" cy="616.57" r="0.75"/>
<circle cx="589.42" cy="616.57" r="0.75"/>
<circle cx="598.72" cy="616.57" r="0.75"/>
<circle cx="608.03" cy="616.57" r="0.75"/>
<circle cx="617.34" cy="616.57" r="0.75"/>
<circle cx="626.64" cy="616.57" r="0.75"/>
<circle cx="635.95" cy="616.57" r="0.75"/>
<circle cx="645.25" cy="616.57" r="0.75"/>
<circle cx="654.56" cy="616.57" r="0.75"/>
<circle cx="179.95" cy="627.33" r="0.75"/>
<circle cx="189.26" cy="627.33" r="0.75"/>
<circle cx="198.56" cy="627.33" r="0.75"/>
<circle cx="217.18" cy="627.33" r="0.75"/>
<circle cx="226.48" cy="627.33" r="0.75"/>
<circle cx="235.79" cy="627.33" r="0.75"/>
<circle cx="245.09" cy="627.33" r="0.75"/>
<circle cx="254.4" cy="627.33" r="0.75"/>
<circle cx="263.71" cy="627.33" r="0.75"/>
<circle cx="273.01" cy="627.33" r="0.75"/>
<circle cx="282.32" cy="627.33" r="0.75"/>
<circle cx="291.62" cy="627.33" r="0.75"/>
<circle cx="300.93" cy="627.33" r="0.75"/>
<circle cx="310.24" cy="627.33" r="0.75"/>
<circle cx="319.54" cy="627.33" r="0.75"/>
<circle cx="328.85" cy="627.33" r="0.75"/>
<circle cx="338.15" cy="627.33" r="0.75"/>
<circle cx="347.46" cy="627.33" r="0.75"/>
<circle cx="356.77" cy="627.33" r="0.75"/>
<circle cx="366.07" cy="627.33" r="0.75"/>
<circle cx="375.38" cy="627.33" r="0.75"/>
<circle cx="384.69" cy="627.33" r="0.75"/>
<circle cx="393.99" cy="627.33" r="0.75"/>
<circle cx="412.6" cy="627.33" r="0.75"/>
<circle cx="421.91" cy="627.33" r="0.75"/>
<circle cx="431.21" cy="627.33" r="0.75"/>
<circle cx="440.52" cy="627.33" r="0.75"/>
<circle cx="449.83" cy="627.33" r="0.75"/>
<circle cx="459.13" cy="627.33" r="0.75"/>
<circle cx="468.44" cy="627.33" r="0.75"/>
<circle cx="477.75" cy="627.33" r="0.75"/>
<circle cx="487.05" cy="627.33" r="0.75"/>
<circle cx="496.36" cy="627.33" r="0.75"/>
<circle cx="505.66" cy="627.33" r="0.75"/>
<circle cx="514.97" cy="627.33" r="0.75"/>
<circle cx="524.27" cy="627.33" r="0.75"/>
<circle cx="533.58" cy="627.33" r="0.75"/>
<circle cx="552.19" cy="627.33" r="0.75"/>
<circle cx="561.5" cy="627.33" r="0.75"/>
<circle cx="570.8" cy="627.33" r="0.75"/>
<circle cx="580.11" cy="627.33" r="0.75"/>
<circle cx="589.42" cy="627.33" r="0.75"/>
<circle cx="598.72" cy="627.33" r="0.75"/>
<circle cx="608.03" cy="627.33" r="0.75"/>
<circle cx="617.34" cy="627.33" r="0.75"/>
<circle cx="626.64" cy="627.33" r="0.75"/>
<circle cx="635.95" cy="627.33" r="0.75"/>
<circle cx="645.25" cy="627.33" r="0.75"/>
<circle cx="654.56" cy="627.33" r="0.75"/>
<circle cx="179.95" cy="638.08" r="0.75"/>
<circle cx="189.26" cy="638.08" r="0.75"/>
<circle cx="198.56" cy="638.08" r="0.75"/>
<circle cx="217.18" cy="638.08" r="0.75"/>
<circle cx="226.48" cy="638.08" r="0.75"/>
<circle cx="245.09" cy="638.08" r="0.75"/>
<circle cx="254.4" cy="638.08" r="0.75"/>
<circle cx="273.01" cy="638.08" r="0.75"/>
<circle cx="282.32" cy="638.08" r="0.75"/>
<circle cx="291.62" cy="638.08" r="0.75"/>
<circle cx="310.24" cy="638.08" r="0.75"/>
<circle cx="319.54" cy="638.08" r="0.75"/>
<circle cx="328.85" cy="638.08" r="0.75"/>
<circle cx="338.15" cy="638.08" r="0.75"/>
<circle cx="347.46" cy="638.08" r="0.75"/>
<circle cx="356.77" cy="638.08" r="0.75"/>
<circle cx="366.07" cy="638.08" r="0.75"/>
<circle cx="375.38" cy="638.08" r="0.75"/>
<circle cx="384.69" cy="638.08" r="0.75"/>
<circle cx="393.99" cy="638.08" r="0.75"/>
<circle cx="421.91" cy="638.08" r="0.75"/>
<circle cx="431.21" cy="638.08" r="0.75"/>
<circle cx="440.52" cy="638.08" r="0.75"/>
<circle cx="449.83" cy="638.08" r="0.75"/>
<circle cx="459.13" cy="638.08" r="0.75"/>
<circle cx="468.44" cy="638.08" r="0.75"/>
<circle cx="477.75" cy="638.08" r="0.75"/>
<circle cx="487.05" cy="638.08" r="0.75"/>
<circle cx="505.66" cy="638.08" r="0.75"/>
<circle cx="514.97" cy="638.08" r="0.75"/>
<circle cx="533.58" cy="638.08" r="0.75"/>
<circle cx="542.89" cy="638.08" r="0.75"/>
<circle cx="552.19" cy="638.08" r="0.75"/>
<circle cx="570.8" cy="638.08" r="0.75"/>
<circle cx="580.11" cy="638.08" r="0.75"/>
<circle cx="589.42" cy="638.08" r="0.75"/>
<circle cx="598.72" cy="638.08" r="0.75"/>
<circle cx="608.03" cy="638.08" r="0.75"/>
<circle cx="617.34" cy="638.08" r="0.75"/>
<circle cx="626.64" cy="638.08" r="0.75"/>
<circle cx="635.95" cy="638.08" r="0.75"/>
<circle cx="645.25" cy="638.08" r="0.75"/>
<circle cx="654.56" cy="638.08" r="0.75"/>
<circle cx="179.95" cy="648.84" r="0.75"/>
<circle cx="189.26" cy="648.84" r="0.75"/>
<circle cx="198.56" cy="648.84" r="0.75"/>
<circle cx="217.18" cy="648.84" r="0.75"/>
<circle cx="226.48" cy="648.84" r="0.75"/>
<circle cx="235.79" cy="648.84" r="0.75"/>
<circle cx="245.09" cy="648.84" r="0.75"/>
<circle cx="254.4" cy="648.84" r="0.75"/>
<circle cx="263.71" cy="648.84" r="0.75"/>
<circle cx="273.01" cy="648.84" r="0.75"/>
<circle cx="282.32" cy="648.84" r="0.75"/>
<circle cx="291.62" cy="648.84" r="0.75"/>
<circle cx="300.93" cy="648.84" r="0.75"/>
<circle cx="310.24" cy="648.84" r="0.75"/>
<circle cx="319.54" cy="648.84" r="0.75"/>
<circle cx="328.85" cy="648.84" r="0.75"/>
<circle cx="338.15" cy="648.84" r="0.75"/>
<circle cx="347.46" cy="648.84" r="0.75"/>
<circle cx="356.77" cy="648.84" r="0.75"/>
<circle cx="366.07" cy="648.84" r="0.75"/>
<circle cx="375.38" cy="648.84" r="0.75"/>
<circle cx="384.69" cy="648.84" r="0.75"/>
<circle cx="393.99" cy="648.84" r="0.75"/>
<circle cx="412.6" cy="648.84" r="0.75"/>
<circle cx="421.91" cy="648.84" r="0.75"/>
<circle cx="431.21" cy="648.84" r="0.75"/>
<circle cx="440.52" cy="648.84" r="0.75"/>
<circle cx="449.83" cy="648.84" r="0.75"/>
<circle cx="459.13" cy="648.84" r="0.75"/>
<circle cx="468.44" cy="648.84" r="0.75"/>
<circle cx="477.75" cy="648.84" r="0.75"/>
<circle cx="487.05" cy="648.84" r="0.75"/>
<circle cx="496.36" cy="648.84" r="0.75"/>
<circle cx="505.66" cy="648.84" r="0.75"/>
<circle cx="514.97" cy="648.84" r="0.75"/>
<circle cx="524.27" cy="648.84" r="0.75"/>
<circle cx="533.58" cy="648.84" r="0.75"/>
<circle cx="552.19" cy="648.84" r="0.75"/>
<circle cx="561.5" cy="648.84" r="0.75"/>
<circle cx="570.8" cy="648.84" r="0.75"/>
<circle cx="580.11" cy="648.84" r="0.75"/>
<circle cx="589.42" cy="648.84" r="0.75"/>
<circle cx="598.72" cy="648.84" r="0.75"/>
<circle cx="608.03" cy="648.84" r="0.75"/>
<circle cx="617.34" cy="648.84" r="0.75"/>
<circle cx="626.64" cy="648.84" r="0.75"/>
<circle cx="635.95" cy="648.84" r="0.75"/>
<circle cx="645.25" cy="648.84" r="0.75"/>
<circle cx="654.56" cy="648.84" r="0.75"/>
<circle cx="179.95" cy="659.6" r="0.75"/>
<circle cx="189.26" cy="659.6" r="0.75"/>
<circle cx="198.56" cy="659.6" r="0.75"/>
<circle cx="217.18" cy="659.6" r="0.75"/>
<circle cx="226.48" cy="659.6" r="0.75"/>
<circle cx="235.79" cy="659.6" r="0.75"/>
<circle cx="245.09" cy="659.6" r="0.75"/>
<circle cx="254.4" cy="659.6" r="0.75"/>
<circle cx="263.71" cy="659.6" r="0.75"/>
<circle cx="273.01" cy="659.6" r="0.75"/>
<circle cx="282.32" cy="659.6" r="0.75"/>
<circle cx="291.62" cy="659.6" r="0.75"/>
<circle cx="300.93" cy="659.6" r="0.75"/>
<circle cx="310.24" cy="659.6" r="0.75"/>
<circle cx="319.54" cy="659.6" r="0.75"/>
<circle cx="328.85" cy="659.6" r="0.75"/>
<circle cx="338.15" cy="659.6" r="0.75"/>
<circle cx="347.46" cy="659.6" r="0.75"/>
<circle cx="356.77" cy="659.6" r="0.75"/>
<circle cx="366.07" cy="659.6" r="0.75"/>
<circle cx="375.38" cy="659.6" r="0.75"/>
<circle cx="384.69" cy="659.6" r="0.75"/>
<circle cx="393.99" cy="659.6" r="0.75"/>
<circle cx="412.6" cy="659.6" r="0.75"/>
<circle cx="421.91" cy="659.6" r="0.75"/>
<circle cx="431.21" cy="659.6" r="0.75"/>
<circle cx="440.52" cy="659.6" r="0.75"/>
<circle cx="449.83" cy="659.6" r="0.75"/>
<circle cx="459.13" cy="659.6" r="0.75"/>
<circle cx="468.44" cy="659.6" r="0.75"/>
<circle cx="477.75" cy="659.6" r="0.75"/>
<circle cx="487.05" cy="659.6" r="0.75"/>
<circle cx="505.66" cy="659.6" r="0.75"/>
<circle cx="514.97" cy="659.6" r="0.75"/>
<circle cx="524.27" cy="659.6" r="0.75"/>
<circle cx="533.58" cy="659.6" r="0.75"/>
<circle cx="542.89" cy="659.6" r="0.75"/>
<circle cx="552.19" cy="659.6" r="0.75"/>
<circle cx="561.5" cy="659.6" r="0.75"/>
<circle cx="570.8" cy="659.6" r="0.75"/>
<circle cx="580.11" cy="659.6" r="0.75"/>
<circle cx="589.42" cy="659.6" r="0.75"/>
<circle cx="598.72" cy="659.6" r="0.75"/>
<circle cx="608.03" cy="659.6" r="0.75"/>
<circle cx="617.34" cy="659.6" r="0.75"/>
<circle cx="626.64" cy="659.6" r="0.75"/>
<circle cx="635.95" cy="659.6" r="0.75"/>
<circle cx="645.25" cy="659.6" r="0.75"/>
<circle cx="654.56" cy="659.6" r="0.75"/>
<circle cx="179.95" cy="670.36" r="0.75"/>
<circle cx="189.26" cy="670.36" r="0.75"/>
<circle cx="198.56" cy="670.36" r="0.75"/>
<circle cx="217.18" cy="670.36" r="0.75"/>
<circle cx="226.48" cy="670.36" r="0.75"/>
<circle cx="235.79" cy="670.36" r="0.75"/>
<circle cx="245.09" cy="670.36" r="0.75"/>
<circle cx="254.4" cy="670.36" r="0.75"/>
<circle cx="263.71" cy="670.36" r="0.75"/>
<circle cx="273.01" cy="670.36" r="0.75"/>
<circle cx="282.32" cy="670.36" r="0.75"/>
<circle cx="291.62" cy="670.36" r="0.75"/>
<circle cx="300.93" cy="670.36" r="0.75"/>
<circle cx="310.24" cy="670.36" r="0.75"/>
<circle cx="319.54" cy="670.36" r="0.75"/>
<circle cx="328.85" cy="670.36" r="0.75"/>
<circle cx="338.15" cy="670.36" r="0.75"/>
<circle cx="347.46" cy="670.36" r="0.75"/>
<circle cx="356.77" cy="670.36" r="0.75"/>
<circle cx="366.07" cy="670.36" r="0.75"/>
<circle cx="375.38" cy="670.36" r="0.75"/>
<circle cx="384.69" cy="670.36" r="0.75"/>
<circle cx="393.99" cy="670.36" r="0.75"/>
<circle cx="412.6" cy="670.36" r="0.75"/>
<circle cx="421.91" cy="670.36" r="0.75"/>
<circle cx="431.21" cy="670.36" r="0.75"/>
<circle cx="440.52" cy="670.36" r="0.75"/>
<circle cx="449.83" cy="670.36" r="0.75"/>
<circle cx="459.13" cy="670.36" r="0.75"/>
<circle cx="468.44" cy="670.36" r="0.75"/>
<circle cx="477.75" cy="670.36" r="0.75"/>
<circle cx="487.05" cy="670.36" r="0.75"/>
<circle cx="505.66" cy="670.36" r="0.75"/>
<circle cx="514.97" cy="670.36" r="0.75"/>
<circle cx="524.27" cy="670.36" r="0.75"/>
<circle cx="533.58" cy="670.36" r="0.75"/>
<circle cx="542.89" cy="670.36" r="0.75"/>
<circle cx="552.19" cy="670.36" r="0.75"/>
<circle cx="561.5" cy="670.36" r="0.75"/>
<circle cx="570.8" cy="670.36" r="0.75"/>
<circle cx="580.11" cy="670.36" r="0.75"/>
<circle cx="589.42" cy="670.36" r="0.75"/>
<circle cx="598.72" cy="670.36" r="0.75"/>
<circle cx="608.03" cy="670.36" r="0.75"/>
<circle cx="617.34" cy="670.36" r="0.75"/>
<circle cx="626.64" cy="670.36" r="0.75"/>
<circle cx="635.95" cy="670.36" r="0.75"/>
<circle cx="645.25" cy="670.36" r="0.75"/>
<circle cx="654.56" cy="670.36" r="0.75"/>
<circle cx="179.95" cy="681.11" r="0.75"/>
<circle cx="198.56" cy="681.11" r="0.75"/>
<circle cx="217.18" cy="681.11" r="0.75"/>
<circle cx="273.01" cy="681.11" r="0.75"/>
<circle cx="282.32" cy="681.11" r="0.75"/>
<circle cx="310.24" cy="681.11" r="0.75"/>
<circle cx="319.54" cy="681.11" r="0.75"/>
<circle cx="328.85" cy="681.11" r="0.75"/>
<circle cx="338.15" cy="681.11" r="0.75"/>
<circle cx="347.46" cy="681.11" r="0.75"/>
<circle cx="356.77" cy="681.11" r="0.75"/>
<circle cx="366.07" cy="681.11" r="0.75"/>
<circle cx="375.38" cy="681.11" r="0.75"/>
<circle cx="384.69" cy="681.11" r="0.75"/>
<circle cx="393.99" cy="681.11" r="0.75"/>
<circle cx="412.6" cy="681.11" r="0.75"/>
<circle cx="421.91" cy="681.11" r="0.75"/>
<circle cx="431.21" cy="681.11" r="0.75"/>
<circle cx="440.52" cy="681.11" r="0.75"/>
<circle cx="449.83" cy="681.11" r="0.75"/>
<circle cx="459.13" cy="681.11" r="0.75"/>
<circle cx="468.44" cy="681.11" r="0.75"/>
<circle cx="477.75" cy="681.11" r="0.75"/>
<circle cx="487.05" cy="681.11" r="0.75"/>
<circle cx="505.66" cy="681.11" r="0.75"/>
<circle cx="514.97" cy="681.11" r="0.75"/>
<circle cx="533.58" cy="681.11" r="0.75"/>
<circle cx="542.89" cy="681.11" r="0.75"/>
<circle cx="552.19" cy="681.11" r="0.75"/>
<circle cx="561.5" cy="681.11" r="0.75"/>
<circle cx="580.11" cy="681.11" r="0.75"/>
<circle cx="589.42" cy="681.11" r="0.75"/>
<circle cx="598.72" cy="681.11" r="0.75"/>
<circle cx="608.03" cy="681.11" r="0.75"/>
<circle cx="617.34" cy="681.11" r="0.75"/>
<circle cx="626.64" cy="681.11" r="0.75"/>
<circle cx="635.95" cy="681.11" r="0.75"/>
<circle cx="645.25" cy="681.11" r="0.75"/>
<circle cx="654.56" cy="681.11" r="0.75"/>
<circle cx="179.95" cy="691.87" r="0.75"/>
<circle cx="198.56" cy="691.87" r="0.75"/>
<circle cx="217.18" cy="691.87" r="0.75"/>
<circle cx="273.01" cy="691.87" r="0.75"/>
<circle cx="282.32" cy="691.87" r="0.75"/>
<circle cx="310.24" cy="691.87" r="0.75"/>
<circle cx="319.54" cy="691.87" r="0.75"/>
<circle cx="328.85" cy="691.87" r="0.75"/>
<circle cx="338.15" cy="691.87" r="0.75"/>
<circle cx="347.46" cy="691.87" r="0.75"/>
<circle cx="356.77" cy="691.87" r="0.75"/>
<circle cx="366.07" cy="691.87" r="0.75"/>
<circle cx="375.38" cy="691.87" r="0.75"/>
<circle cx="384.69" cy="691.87" r="0.75"/>
<circle cx="393.99" cy="691.87" r="0.75"/>
<circle cx="412.6" cy="691.87" r="0.75"/>
<circle cx="421.91" cy="691.87" r="0.75"/>
<circle cx="431.21" cy="691.87" r="0.75"/>
<circle cx="440.52" cy="691.87" r="0.75"/>
<circle cx="449.83" cy="691.87" r="0.75"/>
<circle cx="459.13" cy="691.87" r="0.75"/>
<circle cx="468.44" cy="691.87" r="0.75"/>
<circle cx="477.75" cy="691.87" r="0.75"/>
<circle cx="487.05" cy="691.87" r="0.75"/>
<circle cx="505.66" cy="691.87" r="0.75"/>
<circle cx="514.97" cy="691.87" r="0.75"/>
<circle cx="533.58" cy="691.87" r="0.75"/>
<circle cx="542.89" cy="691.87" r="0.75"/>
<circle cx="552.19" cy="691.87" r="0.75"/>
<circle cx="561.5" cy="691.87" r="0.75"/>
<circle cx="580.11" cy="691.87" r="0.75"/>
<circle cx="589.42" cy="691.87" r="0.75"/>
<circle cx="598.72" cy="691.87" r="0.75"/>
<circle cx="608.03" cy="691.87" r="0.75"/>
<circle cx="617.34" cy="691.87" r="0.75"/>
<circle cx="626.64" cy="691.87" r="0.75"/>
<circle cx="635.95" cy="691.87" r="0.75"/>
<circle cx="645.25" cy="691.87" r="0.75"/>
<circle cx="654.56" cy="691.87" r="0.75"/>
<circle cx="179.95" cy="702.63" r="0.75"/>
<circle cx="198.56" cy="702.63" r="0.75"/>
<circle cx="217.18" cy="702.63" r="0.75"/>
<circle cx="273.01" cy="702.63" r="0.75"/>
<circle cx="282.32" cy="702.63" r="0.75"/>
<circle cx="310.24" cy="702.63" r="0.75"/>
<circle cx="319.54" cy="702.63" r="0.75"/>
<circle cx="328.85" cy="702.63" r="0.75"/>
<circle cx="338.15" cy="702.63" r="0.75"/>
<circle cx="347.46" cy="702.63" r="0.75"/>
<circle cx="356.77" cy="702.63" r="0.75"/>
<circle cx="366.07" cy="702.63" r="0.75"/>
<circle cx="375.38" cy="702.63" r="0.75"/>
<circle cx="384.69" cy="702.63" r="0.75"/>
<circle cx="393.99" cy="702.63" r="0.75"/>
<circle cx="412.6" cy="702.63" r="0.75"/>
<circle cx="421.91" cy="702.63" r="0.75"/>
<circle cx="431.21" cy="702.63" r="0.75"/>
<circle cx="440.52" cy="702.63" r="0.75"/>
<circle cx="449.83" cy="702.63" r="0.75"/>
<circle cx="459.13" cy="702.63" r="0.75"/>
<circle cx="468.44" cy="702.63" r="0.75"/>
<circle cx="477.75" cy="702.63" r="0.75"/>
<circle cx="487.05" cy="702.63" r="0.75"/>
<circle cx="505.66" cy="702.63" r="0.75"/>
<circle cx="514.97" cy="702.63" r="0.75"/>
<circle cx="533.58" cy="702.63" r="0.75"/>
<circle cx="542.89" cy="702.63" r="0.75"/>
<circle cx="552.19" cy="702.63" r="0.75"/>
<circle cx="561.5" cy="702.63" r="0.75"/>
<circle cx="580.11" cy="702.63" r="0.75"/>
<circle cx="589.42" cy="702.63" r="0.75"/>
<circle cx="598.72" cy="702.63" r="0.75"/>
<circle cx="608.03" cy="702.63" r="0.75"/>
<circle cx="617.34" cy="702.63" r="0.75"/>
<circle cx="626.64" cy="702.63" r="0.75"/>
<circle cx="635.95" cy="702.63" r="0.75"/>
<circle cx="645.25" cy="702.63" r="0.75"/>
<circle cx="654.56" cy="702.63" r="0.75"/>
<circle cx="179.95" cy="713.38" r="0.75"/>
<circle cx="198.56" cy="713.38" r="0.75"/>
<circle cx="217.18" cy="713.38" r="0.75"/>
<circle cx="273.01" cy="713.38" r="0.75"/>
<circle cx="282.32" cy="713.38" r="0.75"/>
<circle cx="310.24" cy="713.38" r="0.75"/>
<circle cx="319.54" cy="713.38" r="0.75"/>
<circle cx="328.85" cy="713.38" r="0.75"/>
<circle cx="338.15" cy="713.38" r="0.75"/>
<circle cx="347.46" cy="713.38" r="0.75"/>
<circle cx="356.77" cy="713.38" r="0.75"/>
<circle cx="366.07" cy="713.38" r="0.75"/>
<circle cx="375.38" cy="713.38" r="0.75"/>
<circle cx="384.69" cy="713.38" r="0.75"/>
<circle cx="393.99" cy="713.38" r="0.75"/>
<circle cx="412.6" cy="713.38" r="0.75"/>
<circle cx="421.91" cy="713.38" r="0.75"/>
<circle cx="431.21" cy="713.38" r="0.75"/>
<circle cx="440.52" cy="713.38" r="0.75"/>
<circle cx="449.83" cy="713.38" r="0.75"/>
<circle cx="459.13" cy="713.38" r="0.75"/>
<circle cx="468.44" cy="713.38" r="0.75"/>
<circle cx="477.75" cy="713.38" r="0.75"/>
<circle cx="487.05" cy="713.38" r="0.75"/>
<circle cx="505.66" cy="713.38" r="0.75"/>
<circle cx="514.97" cy="713.38" r="0.75"/>
<circle cx="533.58" cy="713.38" r="0.75"/>
<circle cx="542.89" cy="713.38" r="0.75"/>
<circle cx="552.19" cy="713.38" r="0.75"/>
<circle cx="561.5" cy="713.38" r="0.75"/>
<circle cx="580.11" cy="713.38" r="0.75"/>
<circle cx="589.42" cy="713.38" r="0.75"/>
<circle cx="598.72" cy="713.38" r="0.75"/>
<circle cx="608.03" cy="713.38" r="0.75"/>
<circle cx="617.34" cy="713.38" r="0.75"/>
<circle cx="626.64" cy="713.38" r="0.75"/>
<circle cx="635.95" cy="713.38" r="0.75"/>
<circle cx="645.25" cy="713.38" r="0.75"/>
<circle cx="654.56" cy="713.38" r="0.75"/>
<circle cx="179.95" cy="724.14" r="0.75"/>
<circle cx="198.56" cy="724.14" r="0.75"/>
<circle cx="217.18" cy="724.14" r="0.75"/>
<circle cx="273.01" cy="724.14" r="0.75"/>
<circle cx="282.32" cy="724.14" r="0.75"/>
<circle cx="310.24" cy="724.14" r="0.75"/>
<circle cx="319.54" cy="724.14" r="0.75"/>
<circle cx="328.85" cy="724.14" r="0.75"/>
<circle cx="338.15" cy="724.14" r="0.75"/>
<circle cx="347.46" cy="724.14" r="0.75"/>
<circle cx="356.77" cy="724.14" r="0.75"/>
<circle cx="366.07" cy="724.14" r="0.75"/>
<circle cx="375.38" cy="724.14" r="0.75"/>
<circle cx="384.69" cy="724.14" r="0.75"/>
<circle cx="393.99" cy="724.14" r="0.75"/>
<circle cx="412.6" cy="724.14" r="0.75"/>
<circle cx="421.91" cy="724.14" r="0.75"/>
<circle cx="431.21" cy="724.14" r="0.75"/>
<circle cx="440.52" cy="724.14" r="0.75"/>
<circle cx="449.83" cy="724.14" r="0.75"/>
<circle cx="459.13" cy="724.14" r="0.75"/>
<circle cx="468.44" cy="724.14" r="0.75"/>
<circle cx="477.75" cy="724.14" r="0.75"/>
<circle cx="487.05" cy="724.14" r="0.75"/>
<circle cx="505.66" cy="724.14" r="0.75"/>
<circle cx="514.97" cy="724.14" r="0.75"/>
<circle cx="533.58" cy="724.14" r="0.75"/>
<circle cx="542.89" cy="724.14" r="0.75"/>
<circle cx="552.19" cy="724.14" r="0.75"/>
<circle cx="561.5" cy="724.14" r="0.75"/>
<circle cx="580.11" cy="724.14" r="0.75"/>
<circle cx="589.42" cy="724.14" r="0.75"/>
<circle cx="598.72" cy="724.14" r="0.75"/>
<circle cx="608.03" cy="724.14" r="0.75"/>
<circle cx="617.34" cy="724.14" r="0.75"/>
<circle cx="626.64" cy="724.14" r="0.75"/>
<circle cx="635.95" cy="724.14" r="0.75"/>
<circle cx="645.25" cy="724.14" r="0.75"/>
<circle cx="654.56" cy="724.14" r="0.75"/>
<circle cx="179.95" cy="734.9" r="0.75"/>
<circle cx="189.26" cy="734.9" r="0.75"/>
<circle cx="198.56" cy="734.9" r="0.75"/>
<circle cx="245.09" cy="734.9" r="0.75"/>
<circle cx="282.32" cy="734.9" r="0.75"/>
<circle cx="291.62" cy="734.9" r="0.75"/>
<circle cx="300.93" cy="734.9" r="0.75"/>
<circle cx="310.24" cy="734.9" r="0.75"/>
<circle cx="319.54" cy="734.9" r="0.75"/>
<circle cx="328.85" cy="734.9" r="0.75"/>
<circle cx="338.15" cy="734.9" r="0.75"/>
<circle cx="347.46" cy="734.9" r="0.75"/>
<circle cx="356.77" cy="734.9" r="0.75"/>
<circle cx="366.07" cy="734.9" r="0.75"/>
<circle cx="375.38" cy="734.9" r="0.75"/>
<circle cx="384.69" cy="734.9" r="0.75"/>
<circle cx="393.99" cy="734.9" r="0.75"/>
<circle cx="412.6" cy="734.9" r="0.75"/>
<circle cx="421.91" cy="734.9" r="0.75"/>
<circle cx="431.21" cy="734.9" r="0.75"/>
<circle cx="440.52" cy="734.9" r="0.75"/>
<circle cx="449.83" cy="734.9" r="0.75"/>
<circle cx="459.13" cy="734.9" r="0.75"/>
<circle cx="468.44" cy="734.9" r="0.75"/>
<circle cx="477.75" cy="734.9" r="0.75"/>
<circle cx="487.05" cy="734.9" r="0.75"/>
<circle cx="505.66" cy="734.9" r="0.75"/>
<circle cx="514.97" cy="734.9" r="0.75"/>
<circle cx="533.58" cy="734.9" r="0.75"/>
<circle cx="552.19" cy="734.9" r="0.75"/>
<circle cx="561.5" cy="734.9" r="0.75"/>
<circle cx="570.8" cy="734.9" r="0.75"/>
<circle cx="580.11" cy="734.9" r="0.75"/>
<circle cx="589.42" cy="734.9" r="0.75"/>
<circle cx="598.72" cy="734.9" r="0.75"/>
<circle cx="608.03" cy="734.9" r="0.75"/>
<circle cx="617.34" cy="734.9" r="0.75"/>
<circle cx="626.64" cy="734.9" r="0.75"/>
<circle cx="635.95" cy="734.9" r="0.75"/>
<circle cx="645.25" cy="734.9" r="0.75"/>
<circle cx="654.56" cy="734.9" r="0.75"/>
</g>
</svg></body></html>
